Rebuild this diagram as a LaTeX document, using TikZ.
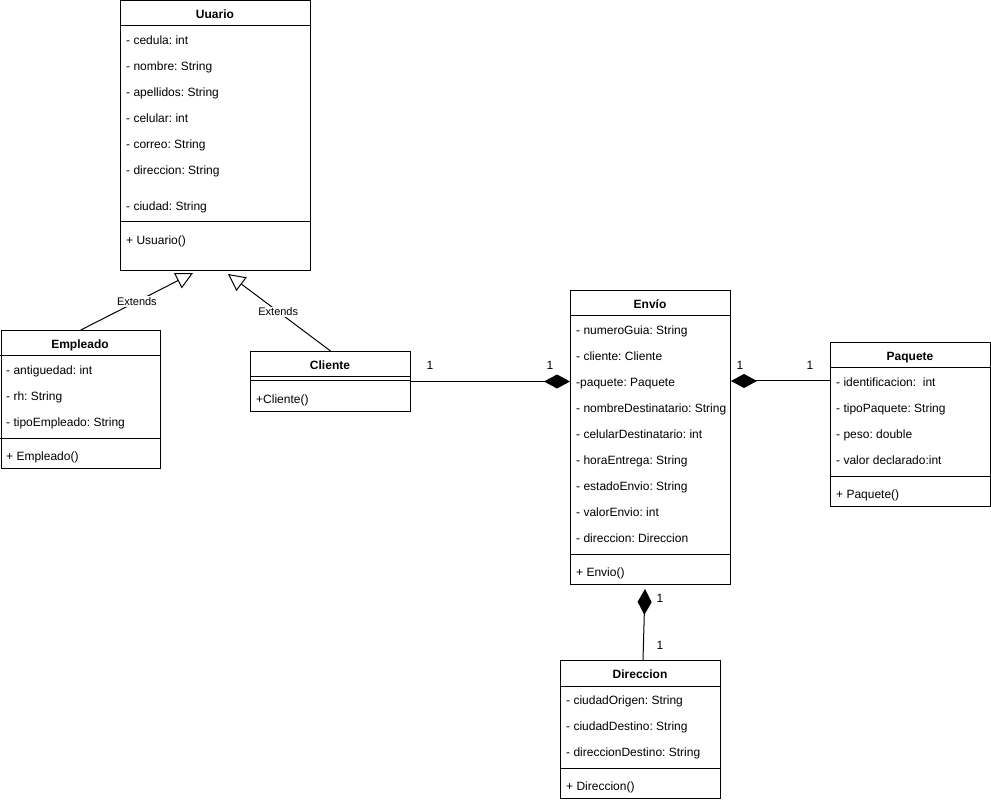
\documentclass[tikz,border=0pt]{standalone}
\usepackage{fontspec}
\setmainfont{Liberation Sans}
\frenchspacing
\usetikzlibrary{arrows.meta}

\begin{document}
\begin{tikzpicture}[x=1pt, y=-1pt, font=\fontsize{12}{14.4}\selectfont,
  classbox/.style = {draw, line width=1pt, inner sep=0pt, anchor=north west},
  sepline/.style = {line width=1pt},
  attr/.style = {anchor=base west, inner sep=0pt, yshift=-1.5pt},
  title/.style = {anchor=base, inner sep=0pt, yshift=-1.5pt, font=\fontsize{12}{14.4}\selectfont\bfseries},
  mult/.style = {inner sep=0pt},
  extlabel/.style = {fill=white, inner sep=1pt, font=\fontsize{11}{13}\selectfont},
  extends/.style = {-{Triangle[open, length=17pt, width=17pt]}, line width=1pt},
  composition/.style = {-{Diamond[length=26pt, width=14pt]}, line width=1pt}]
\useasboundingbox (0,0) rectangle (991,802);

% Uuario
\node [classbox, minimum width=190pt, minimum height=269.5pt] (uuario) at (120,0.5) {};
\draw [sepline] (120,26) -- (310,26);
\draw [sepline] (120,222) -- (310,222);
\node [title] (uuario-t) at (215,17) {Uuario};
\foreach \y/\txt [count=\i] in {43/- cedula: int, 69/- nombre: String, 95/- apellidos: String,
  121/- celular: int, 147/- correo: String, 173/- direccion: String, 209/- ciudad: String,
  243/+ Usuario()}
  \node [attr] (uuario-a\i) at (126,\y) {\txt};

% Empleado
\node [classbox, minimum width=159.5pt, minimum height=138pt] (empleado) at (0.5,330) {};
\draw [sepline] (0,356) -- (160,356);
\draw [sepline] (0,438) -- (160,438);
\node [title] (empleado-t) at (80,347) {Empleado};
\foreach \y/\txt [count=\i] in {373/- antiguedad: int, 399/- rh: String, 425/- tipoEmpleado: String,
  459/+ Empleado()}
  \node [attr] (empleado-a\i) at (6,\y) {\txt};

% Cliente
\node [classbox, minimum width=160pt, minimum height=60pt] (cliente) at (250,351) {};
\draw [sepline] (250,377) -- (410,377);
\draw [sepline] (250,381) -- (410,381);
\node [title] (cliente-t) at (330,368) {Cliente};
\node [attr] (cliente-a1) at (256,402) {+Cliente()};

% Envio
\node [classbox, minimum width=160pt, minimum height=294pt] (envio) at (570,290) {};
\draw [sepline] (570,316) -- (730,316);
\draw [sepline] (570,554) -- (730,554);
\node [title] (envio-t) at (650,307) {Envío};
\foreach \y/\txt [count=\i] in {333/- numeroGuia: String, 359/- cliente: Cliente, 385/-paquete: Paquete,
  411/- nombreDestinatario: String, 437/- celularDestinatario: int, 463/- horaEntrega: String,
  489/- estadoEnvio: String, 515/- valorEnvio: int, 541/- direccion: Direccion, 575/+ Envio()}
  \node [attr] (envio-a\i) at (576,\y) {\txt};

% Paquete
\node [classbox, minimum width=160pt, minimum height=164pt] (paquete) at (830,342) {};
\draw [sepline] (830,368) -- (990,368);
\draw [sepline] (830,476) -- (990,476);
\node [title] (paquete-t) at (910,359) {Paquete};
\foreach \y/\txt [count=\i] in {385/- identificacion: \ int, 411/- tipoPaquete: String, 437/- peso: double,
  463/- valor declarado:int, 497/+ Paquete()}
  \node [attr] (paquete-a\i) at (836,\y) {\txt};

% Direccion
\node [classbox, minimum width=160pt, minimum height=138pt] (direccion) at (560,660) {};
\draw [sepline] (560,686) -- (720,686);
\draw [sepline] (560,768) -- (720,768);
\node [title] (direccion-t) at (640,677) {Direccion};
\foreach \y/\txt [count=\i] in {703/- ciudadOrigen: String, 729/- ciudadDestino: String,
  755/- direccionDestino: String, 789/+ Direccion()}
  \node [attr] (direccion-a\i) at (566,\y) {\txt};

% herencia
\coordinate (uuarioL) at (193,273);
\coordinate (uuarioR) at (228,274);
\draw [extends] (empleado.north) -- node [extlabel, pos=0.5] (ext1) {Extends} (uuarioL);
\draw [extends] (cliente.north) -- node [extlabel, pos=0.51] (ext2) {Extends} (uuarioR);

% composiciones
\draw [composition] (cliente.east) -- (cliente.east -| envio.west);
\coordinate (paqueteIn) at (830,381);
\draw [composition] (paqueteIn) -- (paqueteIn -| envio.east);
\coordinate (direccionIn) at (643,660);
\coordinate (envioOut) at (645,589);
\draw [composition] (direccionIn) -- (envioOut);

% multiplicidades
\node [mult] (m1) at (430,365.5) {1};
\node [mult] (m2) at (550,365.5) {1};
\node [mult] (m3) at (740,365.5) {1};
\node [mult] (m4) at (810,365.5) {1};
\node [mult] (m5) at (660,598.5) {1};
\node [mult] (m6) at (660,645.5) {1};
\end{tikzpicture}
\end{document}
